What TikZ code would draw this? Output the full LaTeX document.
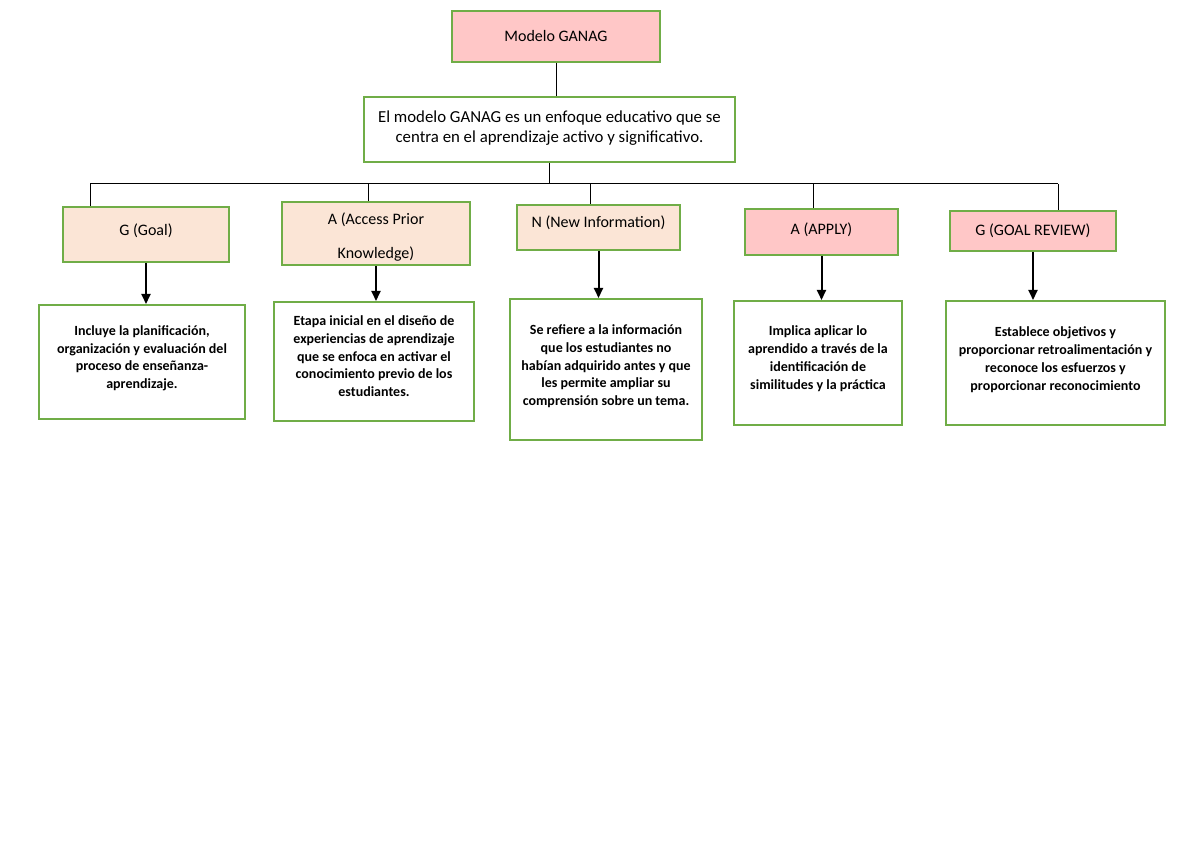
\documentclass[tikz,border=0pt]{standalone}
\usepackage{fontspec}
\setmainfont{Carlito}
\usetikzlibrary{arrows.meta}
\definecolor{verde}{HTML}{70AD47}
\definecolor{rosa}{HTML}{FFC7C7}
\definecolor{durazno}{HTML}{FBE5D6}
\tikzset{
 caja/.style={draw=verde,line width=1pt,align=center,inner sep=2pt,font=\fontsize{8}{10}\selectfont},
 desc/.style={caja,font=\bfseries\fontsize{7}{8.9}\selectfont},
 flecha/.style={-{Triangle[length=5pt,width=4.5pt]},line width=1pt},
 linea/.style={line width=0.5pt}
}
\begin{document}
\begin{tikzpicture}[x=0.5pt,y=-0.5pt]
\useasboundingbox (0,0) rectangle (1200,849);
% cabecera
\node[caja,fill=rosa,minimum width=104pt,minimum height=25.5pt] (top) at (556,36.5) {Modelo GANAG};
\node[caja,font=\fontsize{8.4}{10}\selectfont,minimum width=185.5pt,minimum height=32.5pt] (intro) at (549.5,129.5)
 {El modelo GANAG es un enfoque educativo que se\\centra en el aprendizaje activo y significativo.\\[-7pt]\mbox{}};
% etapas
\node[caja,fill=durazno,minimum width=83pt,minimum height=27.5pt] (g) at (146,234.5) {G (Goal)\\[-5pt]\mbox{}};
\node[caja,fill=durazno,minimum width=94pt,minimum height=30.5pt] (a) at (376,233.5) {\mbox{}\\[-1pt]A (Access Prior\\[7pt]Knowledge)};
\node[caja,fill=durazno,minimum width=81.5pt,minimum height=22.5pt] (n) at (598.5,227.5) {N (New Information)\\[-4pt]\mbox{}};
\node[caja,fill=rosa,minimum width=76.5pt,minimum height=23pt] (ap) at (821.5,232) {A (APPLY)\\[-7pt]\mbox{}};
\node[caja,fill=rosa,minimum width=83pt,minimum height=20pt] (gr) at (1033,231) {G (GOAL REVIEW)};
% descripciones
\node[desc,minimum width=103pt,minimum height=57pt] (d1) at (142,362)
 {Incluye la planificación,\\organización y evaluación del\\proceso de enseñanza-\\aprendizaje.\\[-4pt]\mbox{}};
\node[desc,minimum width=100pt,minimum height=59.5pt] (d2) at (374,361.5)
 {Etapa inicial en el diseño de\\experiencias de aprendizaje\\que se enfoca en activar el\\conocimiento previo de los\\estudiantes.\\[-3.5pt]\mbox{}};
\node[desc,minimum width=96pt,minimum height=70.5pt] (d3) at (606,369.5)
 {Se refiere a la información\\que los estudiantes no\\habían adquirido antes y que\\les permite ampliar su\\comprensión sobre un tema.\\[-4.5pt]\mbox{}};
\node[desc,minimum width=84pt,minimum height=62pt] (d4) at (818,363)
 {Implica aplicar lo\\aprendido a través de la\\identificación de\\similitudes y la práctica\\[-3.5pt]\mbox{}};
\node[desc,minimum width=109.5pt,minimum height=62pt] (d5) at (1055.5,363)
 {Establece objetivos y\\proporcionar retroalimentación y\\reconoce los esfuerzos y\\proporcionar reconocimiento\\[-4.5pt]\mbox{}};
% conectores
\coordinate (b1) at (90,184);
\coordinate (b2) at (368,184);
\coordinate (b3) at (590,184);
\coordinate (b4) at (813,184);
\coordinate (b5) at (1058,184);
\draw[linea] (top.south) -- (top.south |- intro.north);
\draw[linea] (intro.south) -- (intro.south |- b1);
\draw[linea] (b1) -- (b5);
\foreach \b/\n in {b1/g,b2/a,b3/n,b4/ap,b5/gr}
 \draw[linea] (\b) -- (\b |- \n.north);
\foreach \n/\d in {g/d1,a/d2,n/d3,ap/d4,gr/d5}
 \draw[flecha] (\n.south) -- (\n.south |- \d.north);
\end{tikzpicture}
\end{document}
